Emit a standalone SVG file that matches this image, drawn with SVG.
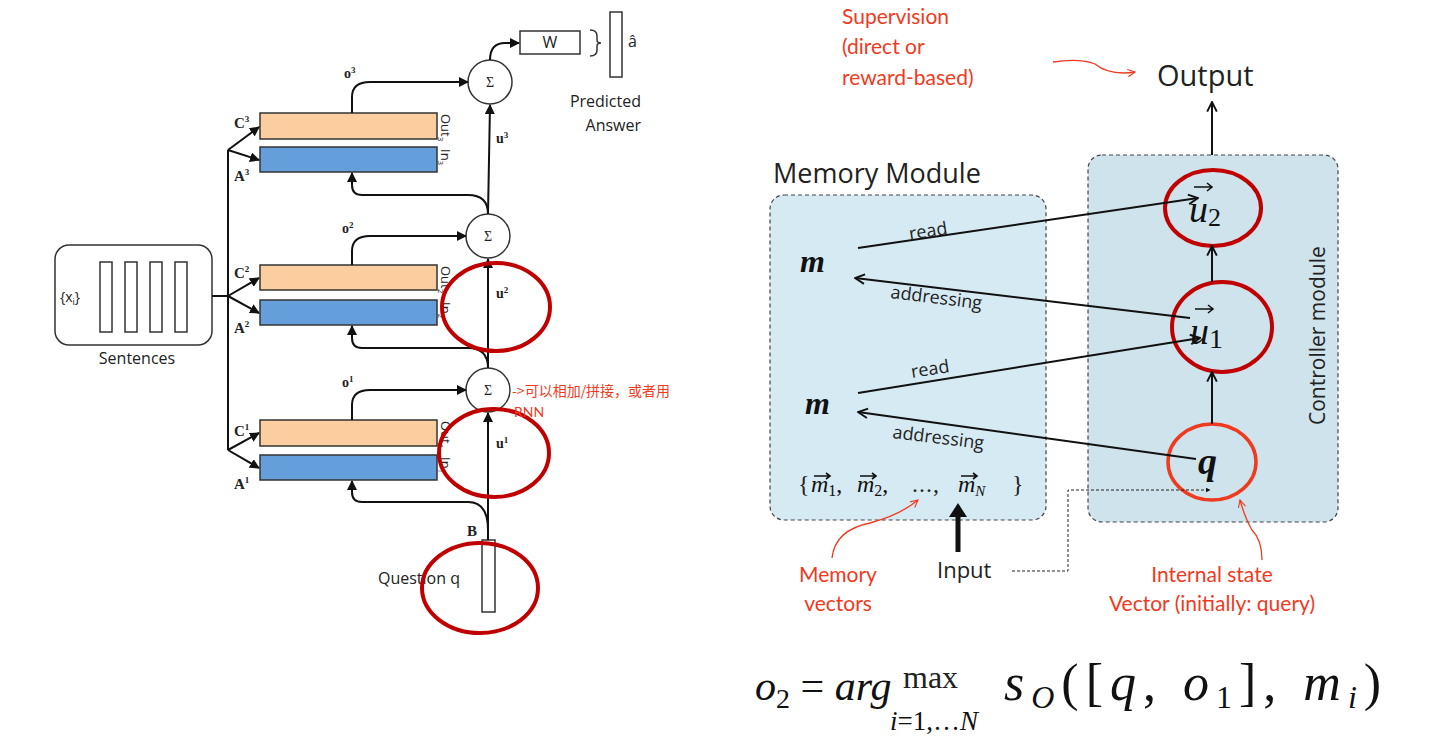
<svg xmlns="http://www.w3.org/2000/svg" width="1438" height="748" viewBox="0 0 1438 748">
<style>
.t{font-family:"Open Sans","Liberation Sans",sans-serif;fill:#222}
.s{font-family:"Liberation Serif",serif;fill:#222}
.ln{fill:none;stroke:#111;stroke-width:2}
.or{fill:#fbcd9f;stroke:#333;stroke-width:1.5}
.bl{fill:#659fdb;stroke:#333;stroke-width:1.5}
.red{fill:none;stroke:#c00000;stroke-width:4}
.rt{font-family:"Lato","Liberation Sans",sans-serif;fill:#f03a1e}
.ra{fill:none;stroke:#f03a1e;stroke-width:1.3}
.math{font-family:"Liberation Serif",serif;font-style:italic;fill:#111}
.vec{fill:none;stroke:#111;stroke-width:1.6}
</style>
<defs>
<marker id="a" viewBox="0 0 10 10" refX="9" refY="5" markerWidth="5" markerHeight="5" orient="auto"><path d="M0,0L10,5L0,10z" fill="#111"/></marker>
<marker id="o" viewBox="0 0 10 10" refX="9" refY="5" markerWidth="6" markerHeight="6" orient="auto"><path d="M1,1L9,5L1,9" fill="none" stroke="#111" stroke-width="1.6"/></marker>
<marker id="r" viewBox="0 0 10 10" refX="9" refY="5" markerWidth="7" markerHeight="7" orient="auto"><path d="M1,1L9,5L1,9" fill="none" stroke="#f03a1e" stroke-width="1.2"/></marker>
</defs>
<rect width="1438" height="748" fill="#fff"/>

<g id="sentences">
<rect x="55" y="245" width="157" height="100" rx="14" fill="#fff" stroke="#333" stroke-width="1.5"/>
<rect x="100" y="262" width="12" height="70" fill="#fff" stroke="#333" stroke-width="1.5"/>
<rect x="125" y="262" width="12" height="70" fill="#fff" stroke="#333" stroke-width="1.5"/>
<rect x="150" y="262" width="12" height="70" fill="#fff" stroke="#333" stroke-width="1.5"/>
<rect x="175" y="262" width="12" height="70" fill="#fff" stroke="#333" stroke-width="1.5"/>
<text x="60" y="302" class="t" font-size="14">{x<tspan font-size="9" dy="3">i</tspan><tspan dy="-3">}</tspan></text>
<text x="137" y="364" class="t" font-size="16" text-anchor="middle">Sentences</text>
</g>

<g id="hop3">
<rect x="260" y="113" width="177" height="26" class="or"/>
<rect x="260" y="147" width="177" height="25" class="bl"/>
<text x="234" y="128" class="s" font-size="15" font-weight="bold">C<tspan font-size="9" dy="-6">3</tspan></text>
<text x="234" y="181" class="s" font-size="15" font-weight="bold">A<tspan font-size="9" dy="-6">3</tspan></text>
<text x="344" y="78" class="s" font-size="14" font-weight="bold">o<tspan font-size="9" dy="-5">3</tspan></text>
<text transform="translate(441,114) rotate(90)" class="t" font-size="13">Out<tspan font-size="8" dy="3">3</tspan></text>
<text transform="translate(441,149) rotate(90)" class="t" font-size="13">In<tspan font-size="8" dy="3">3</tspan></text>
<circle cx="490" cy="82" r="22" fill="#fff" stroke="#333" stroke-width="1.5"/>
<text x="490" y="87" class="s" font-size="14" text-anchor="middle">Σ</text>
<text x="496" y="143" class="s" font-size="14" font-weight="bold">u<tspan font-size="9" dy="-5">3</tspan></text>
</g>
<g id="hop2">
<rect x="260" y="265" width="177" height="25" class="or"/>
<rect x="260" y="300" width="177" height="25" class="bl"/>
<text x="234" y="278" class="s" font-size="15" font-weight="bold">C<tspan font-size="9" dy="-6">2</tspan></text>
<text x="234" y="333" class="s" font-size="15" font-weight="bold">A<tspan font-size="9" dy="-6">2</tspan></text>
<text x="342" y="233" class="s" font-size="14" font-weight="bold">o<tspan font-size="9" dy="-5">2</tspan></text>
<text transform="translate(441,266) rotate(90)" class="t" font-size="13">Out<tspan font-size="8" dy="3">2</tspan></text>
<text transform="translate(441,302) rotate(90)" class="t" font-size="13">In<tspan font-size="8" dy="3">2</tspan></text>
<circle cx="488" cy="236" r="22" fill="#fff" stroke="#333" stroke-width="1.5"/>
<text x="488" y="241" class="s" font-size="14" text-anchor="middle">Σ</text>
<text x="496" y="298" class="s" font-size="14" font-weight="bold">u<tspan font-size="9" dy="-5">2</tspan></text>
</g>
<g id="hop1">
<rect x="260" y="420" width="177" height="26" class="or"/>
<rect x="260" y="455" width="177" height="25" class="bl"/>
<text x="234" y="436" class="s" font-size="15" font-weight="bold">C<tspan font-size="9" dy="-6">1</tspan></text>
<text x="234" y="489" class="s" font-size="15" font-weight="bold">A<tspan font-size="9" dy="-6">1</tspan></text>
<text x="342" y="387" class="s" font-size="14" font-weight="bold">o<tspan font-size="9" dy="-5">1</tspan></text>
<text transform="translate(441,421) rotate(90)" class="t" font-size="13">Out<tspan font-size="8" dy="3">1</tspan></text>
<text transform="translate(441,457) rotate(90)" class="t" font-size="13">In<tspan font-size="8" dy="3">1</tspan></text>
<circle cx="488" cy="390" r="22" fill="#fff" stroke="#333" stroke-width="1.5"/>
<text x="488" y="395" class="s" font-size="14" text-anchor="middle">Σ</text>
<text x="496" y="448" class="s" font-size="14" font-weight="bold">u<tspan font-size="9" dy="-5">1</tspan></text>
</g>
<g id="answer">
<rect x="520" y="31" width="60" height="23" fill="#fff" stroke="#333" stroke-width="1.5"/>
<text x="550" y="48" class="t" font-size="16" text-anchor="middle">W</text>
<path d="M590,30 Q597,30 597,36 L597,40 Q597,43 601,43 Q597,43 597,46 L597,50 Q597,56 590,56" fill="none" stroke="#333" stroke-width="1.5"/>
<rect x="610" y="12" width="12" height="65" fill="#fff" stroke="#333" stroke-width="1.5"/>
<text x="628" y="47" class="t" font-size="16">â</text>
<text x="641" y="107" class="t" font-size="16" text-anchor="end">Predicted</text>
<text x="641" y="131" class="t" font-size="16" text-anchor="end">Answer</text>
</g>
<g id="question">
<rect x="482" y="540" width="13" height="72" fill="#fff" stroke="#333" stroke-width="1.5"/>
<text x="467" y="536" class="s" font-size="15" font-weight="bold">B</text>
<text x="378" y="584" class="t" font-size="16">Question q</text>
</g>
<g id="connectors-left">
<path class="ln" d="M212,296 L228,296" stroke-width="1.5"/>
<path class="ln" d="M228,150 L228,450" stroke-width="1.5"/>
<path class="ln" d="M228,150 L259,127" stroke-width="1.5" marker-end="url(#a)"/>
<path class="ln" d="M228,150 L259,160" stroke-width="1.5" marker-end="url(#a)"/>
<path class="ln" d="M228,296 L259,278" stroke-width="1.5" marker-end="url(#a)"/>
<path class="ln" d="M228,296 L259,313" stroke-width="1.5" marker-end="url(#a)"/>
<path class="ln" d="M228,450 L259,433" stroke-width="1.5" marker-end="url(#a)"/>
<path class="ln" d="M228,450 L259,468" stroke-width="1.5" marker-end="url(#a)"/>
<path class="ln" d="M488,540 L488,413" marker-end="url(#a)"/>
<path class="ln" d="M488,368 L488,259" marker-end="url(#a)"/>
<path class="ln" d="M488,214 L490,105" marker-end="url(#a)"/>
<path class="ln" d="M488,530 Q488,502 468,502 L362,502 Q352,502 352,492 L352,481" marker-end="url(#a)"/>
<path class="ln" d="M488,368 Q488,348 468,348 L362,348 Q352,348 352,338 L352,326" marker-end="url(#a)"/>
<path class="ln" d="M488,214 Q488,195 468,195 L362,195 Q352,195 352,185 L352,173" marker-end="url(#a)"/>
<path class="ln" d="M352,420 L352,405 Q352,390 370,390 L466,390" marker-end="url(#a)"/>
<path class="ln" d="M352,265 L352,251 Q352,236 370,236 L466,236" marker-end="url(#a)"/>
<path class="ln" d="M352,113 L352,97 Q352,82 370,82 L468,82" marker-end="url(#a)"/>
<path class="ln" d="M490,60 Q490,43 505,43 L519,43" marker-end="url(#a)"/>
</g>
<g id="annot-left">
<ellipse cx="496" cy="307" rx="54" ry="44" class="red"/>
<ellipse cx="494" cy="453" rx="55" ry="44" class="red"/>
<ellipse cx="480" cy="588" rx="58" ry="45" class="red"/>
<text x="512" y="396" class="rt" font-size="14" style="font-family:'Noto Sans CJK SC',sans-serif">->可以相加/拼接，或者用</text>
<text x="514" y="417" class="rt" font-size="14">RNN</text>
</g>

<g id="memory">
<rect x="770" y="195" width="276" height="325" rx="14" fill="#d6eaf4" stroke="#444" stroke-width="1.2" stroke-dasharray="4,3"/>
<text x="773" y="183" class="t" font-size="27" font-family="Lato">Memory Module</text>
<text x="800" y="272" class="math" font-size="32" font-weight="bold">m</text>
<text x="805" y="414" class="math" font-size="32" font-weight="bold">m</text>
<text x="798" y="492" class="s" font-size="24" fill="#111">{</text>
<text x="811" y="492" class="math" font-size="24">m<tspan font-style="normal" font-size="16" dy="4">1</tspan><tspan font-style="normal" dy="-4">,</tspan></text>
<text x="857" y="492" class="math" font-size="24">m<tspan font-style="normal" font-size="16" dy="4">2</tspan><tspan font-style="normal" dy="-4">,</tspan></text>
<text x="912" y="492" class="s" font-size="24" fill="#111" letter-spacing="1">...,</text>
<text x="958" y="492" class="math" font-size="24">m<tspan font-size="15" dy="4">N</tspan></text>
<text x="1012" y="492" class="s" font-size="24" fill="#111">}</text>
<path class="vec" d="M814,476 L830,476 M826,473 L830,476 L826,479"/>
<path class="vec" d="M860,476 L876,476 M872,473 L876,476 L872,479"/>
<path class="vec" d="M961,476 L977,476 M973,473 L977,476 L973,479"/>
</g>
<g id="controller">
<rect x="1088" y="155" width="250" height="367" rx="14" fill="#cfe3ec" stroke="#444" stroke-width="1.2" stroke-dasharray="4,3"/>
<text transform="translate(1325,425) rotate(-90)" class="t" font-size="21" font-family="Lato">Controller module</text>
<ellipse cx="1213" cy="208" rx="48" ry="38" class="red"/>
<ellipse cx="1222" cy="327" rx="50" ry="45" class="red"/>
<ellipse cx="1212" cy="462" rx="44" ry="38" fill="none" stroke="#f03a1e" stroke-width="3.5"/>
<text x="1189" y="222" class="math" font-size="38">u<tspan font-style="normal" font-size="26" dy="4">2</tspan></text>
<path class="vec" d="M1194,187 L1212,187 M1207,183 L1212,187 L1207,191" stroke-width="2"/>
<text x="1190" y="344" class="math" font-size="38">u<tspan font-style="normal" font-size="28" dy="4">1</tspan></text>
<path class="vec" d="M1195,309 L1213,309 M1208,305 L1213,309 L1208,313" stroke-width="2"/>
<text x="1198" y="474" class="math" font-size="38" font-weight="bold">q</text>
</g>
<g id="output">
<text x="1157" y="86" class="t" font-size="29" font-family="Lato">Output</text>
</g>
<g id="input">
<text x="937" y="578" class="t" font-size="22" font-family="Lato">Input</text>
</g>
<g id="connectors-right">
<path class="ln" d="M1212,155 L1212,102" stroke-width="2.5" marker-end="url(#o)"/>
<path class="ln" d="M1212,424 L1212,372" stroke-width="3" marker-end="url(#o)"/>
<path class="ln" d="M1212,282 L1212,246" stroke-width="3" marker-end="url(#o)"/>
<path class="ln" d="M858,248 L1198,198" stroke-width="2.5" marker-end="url(#o)"/>
<path class="ln" d="M1190,318 L855,278" stroke-width="2.5" marker-end="url(#o)"/>
<path class="ln" d="M858,393 L1200,338" stroke-width="2.5" marker-end="url(#o)"/>
<path class="ln" d="M1196,459 L858,412" stroke-width="2.5" marker-end="url(#o)"/>
<text transform="translate(910,240) rotate(-9)" class="t" font-size="18" font-family="Lato">read</text>
<text transform="translate(890,298) rotate(7)" class="t" font-size="18" font-family="Lato">addressing</text>
<text transform="translate(912,378) rotate(-9)" class="t" font-size="18" font-family="Lato">read</text>
<text transform="translate(892,438) rotate(7)" class="t" font-size="18" font-family="Lato">addressing</text>
<path d="M958,552 L958,515" stroke="#111" stroke-width="5" fill="none"/>
<path d="M949,517 L958,503 L967,517z" fill="#111"/>
<path d="M1012,571 L1068,571 L1068,490 L1210,490" fill="none" stroke="#222" stroke-width="1" stroke-dasharray="3,2" marker-end="url(#a)"/>
</g>
<g id="annot-right">
<text x="842" y="24" class="rt" font-size="21">Supervision</text>
<text x="842" y="54" class="rt" font-size="21">(direct or</text>
<text x="842" y="85" class="rt" font-size="21">reward-based)</text>
<path class="ra" d="M1053,62 Q1080,58 1095,64 Q1110,76 1135,72" marker-end="url(#r)"/>
<text x="838" y="582" class="rt" font-size="21" text-anchor="middle">Memory</text>
<text x="838" y="611" class="rt" font-size="21" text-anchor="middle">vectors</text>
<path class="ra" d="M832,558 Q835,530 870,523 Q900,515 918,500" marker-end="url(#r)"/>
<text x="1212" y="582" class="rt" font-size="21" text-anchor="middle">Internal state</text>
<text x="1212" y="611" class="rt" font-size="21" text-anchor="middle">Vector (initially: query)</text>
<path class="ra" d="M1262,560 Q1262,540 1252,530 Q1245,518 1240,500" marker-end="url(#r)"/>
</g>
<g id="formula">
<text x="755" y="700" class="math" font-size="42" xml:space="preserve">o<tspan font-size="28" dy="8" font-style="normal">2</tspan><tspan dy="-8" font-style="normal"> = </tspan>arg</text>
<text x="903" y="688" class="s" font-size="32" fill="#111">max</text>
<text x="890" y="730" class="math" font-size="27">i<tspan font-style="normal">=1,…</tspan>N</text>
<text x="1004" y="700" class="math" font-size="52" letter-spacing="7">s<tspan font-size="32" dy="8">O</tspan><tspan dy="-8" font-style="normal">([</tspan>q<tspan font-style="normal">, </tspan>o<tspan font-size="32" dy="8" font-style="normal">1</tspan><tspan dy="-8" font-style="normal">], </tspan>m<tspan font-size="32" dy="8">i</tspan><tspan dy="-8" font-style="normal">)</tspan></text>
</g>
</svg>
